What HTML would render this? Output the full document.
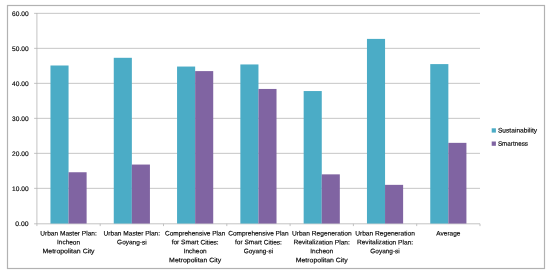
<!DOCTYPE html>
<html lang="en">
<head>
<meta charset="utf-8">
<title>Sustainability and Smartness chart</title>
<style>
html,body{margin:0;padding:0;background:#fff;}
body{width:550px;height:273px;overflow:hidden;}
svg{display:block;}
svg text{font-family:"Liberation Sans",sans-serif;font-size:6.6px;fill:#000;stroke:#000;stroke-width:0.15px;}
</style>
</head>
<body>
<svg width="550" height="273" viewBox="0 0 550 273">
<rect x="0" y="0" width="550" height="273" fill="#ffffff"/>
<rect x="7.5" y="5.5" width="537" height="263" fill="#ffffff" stroke="#b2b2b2" stroke-width="1.2"/>
<g stroke="#adadad" stroke-width="0.7" fill="none">
<line x1="36.90" y1="188.35" x2="480.00" y2="188.35"/>
<line x1="36.90" y1="153.35" x2="480.00" y2="153.35"/>
<line x1="36.90" y1="118.35" x2="480.00" y2="118.35"/>
<line x1="36.90" y1="83.35" x2="480.00" y2="83.35"/>
<line x1="36.90" y1="48.35" x2="480.00" y2="48.35"/>
<line x1="36.90" y1="13.35" x2="480.00" y2="13.35"/>
</g>
<g stroke="#b4b4b4" stroke-width="0.8" fill="none">
<line x1="36.90" y1="13.00" x2="36.90" y2="223.80"/>
<line x1="34.10" y1="223.80" x2="480.00" y2="223.80"/>
<line x1="34.10" y1="188.35" x2="36.90" y2="188.35"/>
<line x1="34.10" y1="153.35" x2="36.90" y2="153.35"/>
<line x1="34.10" y1="118.35" x2="36.90" y2="118.35"/>
<line x1="34.10" y1="83.35" x2="36.90" y2="83.35"/>
<line x1="34.10" y1="48.35" x2="36.90" y2="48.35"/>
<line x1="34.10" y1="13.35" x2="36.90" y2="13.35"/>
<line x1="36.90" y1="223.80" x2="36.90" y2="226.10"/>
<line x1="100.20" y1="223.80" x2="100.20" y2="226.10"/>
<line x1="163.50" y1="223.80" x2="163.50" y2="226.10"/>
<line x1="226.80" y1="223.80" x2="226.80" y2="226.10"/>
<line x1="290.10" y1="223.80" x2="290.10" y2="226.10"/>
<line x1="353.40" y1="223.80" x2="353.40" y2="226.10"/>
<line x1="416.70" y1="223.80" x2="416.70" y2="226.10"/>
<line x1="480.00" y1="223.80" x2="480.00" y2="226.10"/>
</g>
<g fill="#4bacc6">
<rect x="50.46" y="65.50" width="18.10" height="158.05"/>
<rect x="113.76" y="57.80" width="18.10" height="165.75"/>
<rect x="177.06" y="66.55" width="18.10" height="157.00"/>
<rect x="240.36" y="64.45" width="18.10" height="159.10"/>
<rect x="303.66" y="91.05" width="18.10" height="132.50"/>
<rect x="366.96" y="38.90" width="18.10" height="184.65"/>
<rect x="430.26" y="64.10" width="18.10" height="159.45"/>
</g>
<g fill="#8064a2">
<rect x="68.54" y="172.25" width="18.08" height="51.30"/>
<rect x="131.84" y="164.55" width="18.08" height="59.00"/>
<rect x="195.14" y="71.10" width="18.08" height="152.45"/>
<rect x="258.44" y="88.95" width="18.08" height="134.60"/>
<rect x="321.74" y="174.35" width="18.08" height="49.20"/>
<rect x="385.04" y="184.85" width="18.08" height="38.70"/>
<rect x="448.34" y="142.85" width="18.08" height="80.70"/>
</g>
<g text-anchor="end">
<text x="28.6" y="225.95" textLength="13.3" lengthAdjust="spacingAndGlyphs" transform="rotate(0.03 20 225.95)">0.00</text>
<text x="28.6" y="190.95" textLength="16.5" lengthAdjust="spacingAndGlyphs" transform="rotate(0.03 20 190.95)">10.00</text>
<text x="28.6" y="155.95" textLength="16.5" lengthAdjust="spacingAndGlyphs" transform="rotate(0.03 20 155.95)">20.00</text>
<text x="28.6" y="120.95" textLength="16.5" lengthAdjust="spacingAndGlyphs" transform="rotate(0.03 20 120.95)">30.00</text>
<text x="28.6" y="85.95" textLength="16.5" lengthAdjust="spacingAndGlyphs" transform="rotate(0.03 20 85.95)">40.00</text>
<text x="28.6" y="50.95" textLength="16.5" lengthAdjust="spacingAndGlyphs" transform="rotate(0.03 20 50.95)">50.00</text>
<text x="28.6" y="15.95" textLength="16.5" lengthAdjust="spacingAndGlyphs" transform="rotate(0.03 20 15.95)">60.00</text>
</g>
<g text-anchor="middle">
<text x="68.55" y="235.45" textLength="56.5" lengthAdjust="spacingAndGlyphs" transform="rotate(0.03 68.55 235.45)">Urban Master Plan:</text>
<text x="68.55" y="244.38" textLength="23.0" lengthAdjust="spacingAndGlyphs" transform="rotate(0.03 68.55 244.38)">Incheon</text>
<text x="68.55" y="253.31" textLength="52.1" lengthAdjust="spacingAndGlyphs" transform="rotate(0.03 68.55 253.31)">Metropolitan City</text>
<text x="131.85" y="235.45" textLength="56.5" lengthAdjust="spacingAndGlyphs" transform="rotate(0.03 131.85 235.45)">Urban Master Plan:</text>
<text x="131.85" y="244.38" textLength="29.5" lengthAdjust="spacingAndGlyphs" transform="rotate(0.03 131.85 244.38)">Goyang-si</text>
<text x="195.15" y="235.45" textLength="60.3" lengthAdjust="spacingAndGlyphs" transform="rotate(0.03 195.15 235.45)">Comprehensive Plan</text>
<text x="195.15" y="244.38" textLength="47.0" lengthAdjust="spacingAndGlyphs" transform="rotate(0.03 195.15 244.38)">for Smart Cities:</text>
<text x="195.15" y="253.31" textLength="23.0" lengthAdjust="spacingAndGlyphs" transform="rotate(0.03 195.15 253.31)">Incheon</text>
<text x="195.15" y="262.24" textLength="52.1" lengthAdjust="spacingAndGlyphs" transform="rotate(0.03 195.15 262.24)">Metropolitan City</text>
<text x="258.45" y="235.45" textLength="60.3" lengthAdjust="spacingAndGlyphs" transform="rotate(0.03 258.45 235.45)">Comprehensive Plan</text>
<text x="258.45" y="244.38" textLength="47.0" lengthAdjust="spacingAndGlyphs" transform="rotate(0.03 258.45 244.38)">for Smart Cities:</text>
<text x="258.45" y="253.31" textLength="29.5" lengthAdjust="spacingAndGlyphs" transform="rotate(0.03 258.45 253.31)">Goyang-si</text>
<text x="321.75" y="235.45" textLength="59.7" lengthAdjust="spacingAndGlyphs" transform="rotate(0.03 321.75 235.45)">Urban Regeneration</text>
<text x="321.75" y="244.38" textLength="56.3" lengthAdjust="spacingAndGlyphs" transform="rotate(0.03 321.75 244.38)">Revitalization Plan:</text>
<text x="321.75" y="253.31" textLength="23.0" lengthAdjust="spacingAndGlyphs" transform="rotate(0.03 321.75 253.31)">Incheon</text>
<text x="321.75" y="262.24" textLength="52.1" lengthAdjust="spacingAndGlyphs" transform="rotate(0.03 321.75 262.24)">Metropolitan City</text>
<text x="385.05" y="235.45" textLength="59.7" lengthAdjust="spacingAndGlyphs" transform="rotate(0.03 385.05 235.45)">Urban Regeneration</text>
<text x="385.05" y="244.38" textLength="56.3" lengthAdjust="spacingAndGlyphs" transform="rotate(0.03 385.05 244.38)">Revitalization Plan:</text>
<text x="385.05" y="253.31" textLength="29.5" lengthAdjust="spacingAndGlyphs" transform="rotate(0.03 385.05 253.31)">Goyang-si</text>
<text x="448.35" y="235.45" textLength="24.0" lengthAdjust="spacingAndGlyphs" transform="rotate(0.03 448.35 235.45)">Average</text>
</g>
<rect x="491.7" y="128.3" width="4.2" height="4.3" fill="#4bacc6"/>
<text x="497.9" y="132.6" textLength="39.2" lengthAdjust="spacingAndGlyphs" transform="rotate(0.03 517 132.6)">Sustainability</text>
<rect x="491.7" y="141.5" width="4.2" height="4.3" fill="#8064a2"/>
<text x="497.9" y="145.8" textLength="30.1" lengthAdjust="spacingAndGlyphs" transform="rotate(0.03 513 145.8)">Smartness</text>
</svg>
</body>
</html>
